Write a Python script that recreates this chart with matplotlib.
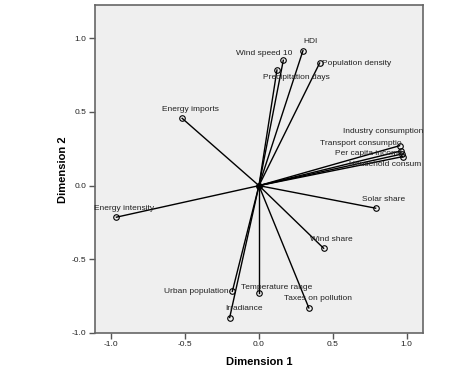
import numpy as np
import matplotlib.pyplot as plt

# variables and their loadings on the two dimensions
variables = ["Energy imports", "Wind speed 10", "Precipitation days", "HDI",
             "Population density", "Industry consumption", "Transport consumptio",
             "Per capita income", "Household consum", "Solar share", "Wind share",
             "Temperature range", "Taxes on pollution", "Energy intensity",
             "Urban population", "Irradiance"]
dim1 = [-0.52, 0.165, 0.122, 0.298, 0.411, 0.952, 0.96, 0.97, 0.974, 0.79, 0.438,
        0.0, 0.338, -0.965, -0.18, -0.198]
dim2 = [0.457, 0.851, 0.785, 0.916, 0.832, 0.271, 0.235, 0.215, 0.197, -0.153,
        -0.425, -0.73, -0.83, -0.214, -0.717, -0.895]

# label placement (pixels from the point) and alignment
offsets = [(8, 9, "center"), (-19, 7, "center"), (19, -8, "center"), (8, 9, "center"),
           (2, 0, "left"), (-16, 14, "center"), (-40, 8, "center"), (-33, 0, "center"),
           (-18, -8, "center"), (8, 9, "center"), (8, 9, "center"), (18, 6, "center"),
           (9, 9, "center"), (8, 9, "center"), (-4, 0, "right"), (14, 9, "center")]

plt.rcParams['font.family'] = ['Liberation Sans', 'DejaVu Sans']

fig = plt.figure(figsize=(4.74, 3.79), dpi=100)
ax = fig.add_axes([0.2004, 0.1214, 0.693, 0.8654])
ax.set_facecolor("#efefef")

for x, y in zip(dim1, dim2):
    ax.plot([0, x], [0, y], color="black", lw=1.0, zorder=2)
ax.plot(dim1, dim2, "o", ms=4, mfc="none", mec="black", mew=0.8, zorder=3)
ax.plot([0], [0], "o", ms=4, color="black", zorder=4)

for name, x, y, (dx, dy, ha) in zip(variables, dim1, dim2, offsets):
    ax.annotate(name, (x, y), xytext=(dx, dy), textcoords="offset pixels",
                ha=ha, va="center", fontsize=6, color="#222222", zorder=5)

ax.set_xlim(-1.11, 1.114)
ax.set_ylim(-1.0, 1.226)
ax.set_xticks([-1.0, -0.5, 0.0, 0.5, 1.0])
ax.set_yticks([-1.0, -0.5, 0.0, 0.5, 1.0])
ax.set_xticklabels(["-1.0", "-0.5", "0.0", "0.5", "1.0"])
ax.set_yticklabels(["-1.0", "-0.5", "0.0", "0.5", "1.0"])
ax.tick_params(direction="out", length=4, width=1, labelsize=6,
               colors="#555555", labelcolor="#222222", pad=2)
for side in ax.spines.values():
    side.set_color("#666666")
    side.set_linewidth(1.2)

fig.text(0.5464, 1 - 361.7 / 379, "Dimension 1", ha="center", va="center",
         fontsize=8, fontweight="bold")
fig.text(62.7 / 474, 1 - 170 / 379, "Dimension 2", ha="center", va="center",
         rotation=90, fontsize=8, fontweight="bold")

fig.savefig("out.png", dpi=100)
